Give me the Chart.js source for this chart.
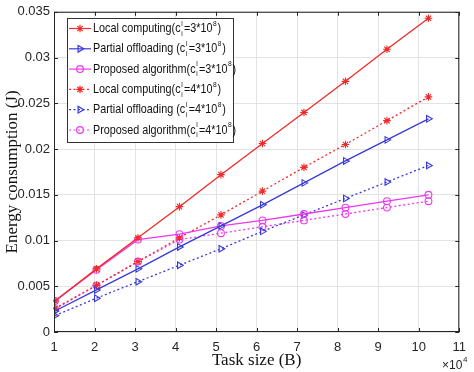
<!DOCTYPE html>
<html>
<head>
<meta charset="utf-8">
<script src="https://cdn.jsdelivr.net/npm/chart.js@4"></script>
<style>
  body { margin: 0; background: #fff; }
  #grafica { display: block; }
</style>
</head>
<body>
<canvas id="grafica" width="474" height="372"></canvas>
<script>
// task size in units of 10^4 B
const taskSize = [1.024, 2.048, 3.072, 4.096, 5.12, 6.144, 7.168, 8.192, 9.216, 10.24];

const local3 = [0.0034, 0.0069, 0.0103, 0.0137, 0.0172, 0.0206, 0.0240, 0.0274, 0.0309, 0.0343];
const partial3 = [0.0023, 0.0046, 0.0069, 0.0093, 0.0116, 0.0139, 0.0163, 0.0187, 0.0210, 0.0233];
const proposed3 = [0.0034, 0.0068, 0.0101, 0.0107, 0.0116, 0.0122, 0.0129, 0.0136, 0.0143, 0.0150];
const local4 = [0.0026, 0.0051, 0.0077, 0.0103, 0.0128, 0.0154, 0.0180, 0.0205, 0.0231, 0.0257];
const partial4 = [0.0018, 0.0037, 0.0055, 0.0073, 0.0091, 0.0110, 0.0128, 0.0146, 0.0164, 0.0182];
const proposed4 = [0.0025, 0.0051, 0.0077, 0.0101, 0.0108, 0.0115, 0.0122, 0.0129, 0.0136, 0.0143];

const xTicks = [1, 2, 3, 4, 5, 6, 7, 8, 9, 10, 11];
const yTicks = [0, 0.005, 0.01, 0.015, 0.02, 0.025, 0.03, 0.035];

const legendNames = ["Local computing(c", "Partial offloading (c", "Proposed algorithm(c",
                     "Local computing(c", "Partial offloading (c", "Proposed algorithm(c"];
const legendPower = ["3", "3", "3", "4", "4", "4"];

const rojo = "#f22a2a";
const azul = "#3a3ad8";
const magenta = "#ee38ee";

function puntos(ys) {
    return ys.map((y, i) => ({ x: taskSize[i], y: y }));
}

function serie(label, ys, color, estilo, punteado) {
    return {
        label: label,
        data: puntos(ys),
        borderColor: color,
        backgroundColor: "rgba(0,0,0,0)",
        borderWidth: 1.3,
        borderDash: punteado ? [2, 2.5] : [],
        pointStyle: estilo,
        pointRotation: estilo === "triangle" ? 90 : 0,
        pointRadius: estilo === "circle" ? 3.4 : 3.8,
        pointBorderWidth: 1.1,
        pointBorderColor: color,
        pointBackgroundColor: "rgba(0,0,0,0)",
        tension: 0,
    };
}

const datasets = [
    serie(legendNames[0], local3, rojo, "star", false),
    serie(legendNames[1], partial3, azul, "triangle", false),
    serie(legendNames[2], proposed3, magenta, "circle", false),
    serie(legendNames[3], local4, rojo, "star", true),
    serie(legendNames[4], partial4, azul, "triangle", true),
    serie(legendNames[5], proposed4, magenta, "circle", true),
];

// narrow text like the matlab legend font
function texto(c, s, x, y, size) {
    const k = 0.83;
    c.font = size + "px 'Liberation Sans'";
    c.save();
    c.translate(x, y);
    c.scale(k, 1);
    c.fillText(s, 0, 0);
    c.restore();
    return c.measureText(s).width * k;
}

// box, inner tick marks, axis titles and legend in matlab style
const marco = {
    id: "marco",
    afterDraw(chart) {
        const c = chart.ctx;
        const a = chart.chartArea;
        const sx = chart.scales.x;
        const sy = chart.scales.y;
        c.save();
        c.strokeStyle = "#262626";
        c.lineWidth = 1;
        c.setLineDash([]);
        c.strokeRect(a.left + 0.5, a.top + 0.5, a.right - a.left - 1, a.bottom - a.top - 1);
        c.beginPath();
        xTicks.forEach(t => {
            const px = Math.round(sx.getPixelForValue(t)) + 0.5;
            c.moveTo(px, a.bottom); c.lineTo(px, a.bottom - 4);
            c.moveTo(px, a.top); c.lineTo(px, a.top + 4);
        });
        yTicks.forEach(t => {
            const py = Math.round(sy.getPixelForValue(t)) + 0.5;
            c.moveTo(a.left, py); c.lineTo(a.left + 4, py);
            c.moveTo(a.right, py); c.lineTo(a.right - 4, py);
        });
        c.stroke();

        // titles
        c.fillStyle = "#111";
        c.font = "17px 'Liberation Serif'";
        c.textAlign = "center";
        c.textBaseline = "middle";
        c.fillText("Task size (B)", (a.left + a.right) / 2, 361);
        c.save();
        c.translate(13, (a.top + a.bottom) / 2);
        c.rotate(-Math.PI / 2);
        c.fillText("Energy consumption (J)", 0, 0);
        c.restore();

        c.fillStyle = "#262626";
        c.font = "12px 'Liberation Sans'";
        c.textAlign = "left";
        c.fillText("\u00d710", 442, 366);
        c.font = "8px 'Liberation Sans'";
        c.fillText("4", 463, 360);

        // legend
        const lx = 67, ly = 18, lw = 166, lh = 124;
        c.fillStyle = "#fff";
        c.fillRect(lx, ly, lw, lh);
        c.strokeStyle = "#333";
        c.strokeRect(lx + 0.5, ly + 0.5, lw, lh);
        datasets.forEach((d, i) => {
            const y = 28.5 + i * 20.3;
            c.strokeStyle = d.borderColor;
            c.lineWidth = 1.2;
            c.setLineDash(d.borderDash);
            c.beginPath();
            c.moveTo(69, y); c.lineTo(91, y);
            c.stroke();
            c.setLineDash([]);
            c.fillStyle = "rgba(0,0,0,0)";
            Chart.helpers.drawPoint(c, {
                pointStyle: d.pointStyle,
                rotation: d.pointRotation,
                radius: d.pointRadius,
                borderWidth: 1.1,
            }, 80, y);
            if (d.pointStyle === "star") {
                c.fillStyle = d.borderColor;
                c.beginPath(); c.arc(80, y, 1.8, 0, Math.PI * 2); c.fill();
            }
            c.fillStyle = "#111";
            c.textBaseline = "middle";
            let x = 93;
            x += texto(c, d.label, x, y, 13);
            texto(c, "l", x + 0.8, y - 5, 8);
            texto(c, "i", x + 0.8, y + 5, 8);
            x += 3.5;
            x += texto(c, "=" + legendPower[i] + "*10", x, y, 13);
            texto(c, "8", x + 0.5, y - 5, 8);
            x += 5;
            texto(c, ")", x, y, 13);
        });
        c.restore();
    }
};

// fill the centre dot of the star markers
const estrellas = {
    id: "estrellas",
    afterDatasetsDraw(chart) {
        const c = chart.ctx;
        chart.data.datasets.forEach((d, i) => {
            if (d.pointStyle !== "star") return;
            chart.getDatasetMeta(i).data.forEach(p => {
                c.fillStyle = d.borderColor;
                c.beginPath(); c.arc(p.x, p.y, 1.8, 0, Math.PI * 2); c.fill();
            });
        });
    }
};

const ctx = document.getElementById("grafica");

const myChart = new Chart(ctx, {
    type: "line",
    data: { datasets: datasets },
    options: {
        responsive: false,
        animation: false,
        layout: { padding: { top: 7, right: 7, left: 0, bottom: 0 } },
        plugins: { legend: { display: false }, tooltip: { enabled: false } },
        scales: {
            x: {
                type: "linear",
                min: 1,
                max: 11,
                afterFit: s => { s.height = 40; },
                afterBuildTicks: s => { s.ticks = xTicks.map(v => ({ value: v })); },
                grid: { color: "#e3e3e3", drawTicks: false },
                border: { display: false },
                ticks: { padding: 8, color: "#262626", font: { family: "Liberation Sans", size: 13 }, maxRotation: 0 },
            },
            y: {
                min: 0,
                max: 0.035,
                afterFit: s => { s.width = 54; },
                afterBuildTicks: s => { s.ticks = yTicks.map(v => ({ value: v })); },
                grid: { color: "#e3e3e3", drawTicks: false },
                border: { display: false },
                ticks: {
                    padding: 4,
                    color: "#262626",
                    font: { family: "Liberation Sans", size: 13 },
                    callback: v => String(Number(v.toFixed(3))),
                },
            },
        },
    },
    plugins: [estrellas, marco],
});
</script>
</body>
</html>
